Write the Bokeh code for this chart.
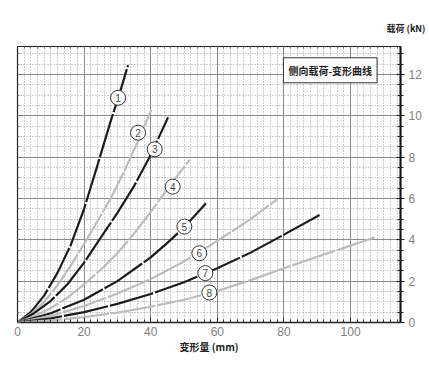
from bokeh.plotting import figure
from bokeh.models import LinearAxis, Range1d, SingleIntervalTicker, Label, CustomLabelingPolicy
from bokeh.core.properties import value
from bokeh.embed import file_html
from bokeh.resources import INLINE

# ---- data ----
curve_ids = ["1", "2", "3", "4", "5", "6", "7", "8"]

c1_x = [0, 4, 8, 12, 16, 20, 24, 28, 30.5, 33.2]
c1_y = [0, 0.5, 1.3, 2.4, 3.75, 5.5, 7.6, 9.75, 11.0, 12.45]

c2_x = [0, 4, 8, 12, 16, 20, 24, 28, 32, 36, 40.2]
c2_y = [0, 0.4, 1.0, 1.8, 2.75, 3.8, 4.9, 6.0, 7.3, 8.7, 10.3]

c3_x = [0, 5, 10, 15, 20, 25, 30, 35, 40, 45.2]
c3_y = [0, 0.45, 1.05, 1.85, 2.9, 4.1, 5.3, 6.6, 8.1, 9.92]

c4_x = [0, 5, 10, 15, 20, 25, 30, 35, 40, 45, 51.6]
c4_y = [0, 0.3, 0.7, 1.2, 1.85, 2.55, 3.35, 4.3, 5.35, 6.45, 7.86]

c5_x = [0, 10, 20, 30, 40, 45, 50, 56.6]
c5_y = [0, 0.45, 1.1, 2.0, 3.15, 3.85, 4.6, 5.77]

c6_x = [0, 10, 20, 30, 40, 50, 60, 70, 78]
c6_y = [0, 0.32, 0.8, 1.4, 2.1, 2.95, 3.95, 5.0, 5.96]

c7_x = [0, 10, 20, 30, 40, 50, 60, 70, 80, 90.7]
c7_y = [0, 0.2, 0.5, 0.9, 1.38, 1.95, 2.62, 3.38, 4.25, 5.2]

c8_x = [0, 10, 20, 30, 40, 50, 60, 70, 80, 90, 100, 107.3]
c8_y = [0, 0.1, 0.26, 0.48, 0.76, 1.1, 1.52, 2.05, 2.62, 3.18, 3.72, 4.12]

label_x = [30.2, 36.2, 41.2, 46.6, 50.1, 54.6, 56.4, 57.6]
label_y = [10.87, 9.18, 8.38, 6.57, 4.64, 3.35, 2.39, 1.45]

x_title = "变形量 (mm)"
y_title = "载荷 (kN)"
chart_title = "侧向载荷-变形曲线"

# ---- figure ----
CJK = "Noto Sans CJK SC"
p = figure(width=429, height=375, output_backend="svg", toolbar_location=None,
           x_range=Range1d(0, 115), y_range=Range1d(0, 13.35),
           y_axis_location="right",
           min_border_left=17, min_border_right=29, min_border_top=46, min_border_bottom=53)
p.background_fill_color = "white"
p.border_fill_color = "white"
p.outline_line_color = "#222222"
p.outline_line_width = 1.2

xt = SingleIntervalTicker(interval=20, num_minor_ticks=10)
yt = SingleIntervalTicker(interval=2, num_minor_ticks=4)

xa = p.xaxis[0]
xa.ticker = xt
xa.axis_label = x_title
xa.axis_label_text_font = CJK
xa.axis_label_text_font_style = "bold"
xa.axis_label_text_font_size = "10px"
xa.axis_label_text_color = "#222222"
xa.axis_label_standoff = 0
xa.major_label_text_font = "Liberation Sans"
xa.major_label_text_font_size = "12px"
xa.major_label_text_color = "#808080"
xa.major_label_standoff = 4
xa.axis_line_color = "#222222"
xa.axis_line_width = 1.5
xa.major_tick_in = 5
xa.major_tick_out = 0
xa.minor_tick_in = 3
xa.minor_tick_out = 0
xa.major_tick_line_color = "#333333"
xa.minor_tick_line_color = "#333333"

ya = p.yaxis[0]
ya.ticker = yt
ya.major_label_text_font = "Liberation Sans"
ya.major_label_text_font_size = "12px"
ya.major_label_text_color = "#808080"
ya.major_label_standoff = 4
ya.axis_line_color = "#111111"
ya.axis_line_width = 2
ya.major_tick_in = 4
ya.major_tick_out = 4
ya.minor_tick_in = 3
ya.minor_tick_out = 3
ya.major_tick_line_color = "#222222"
ya.minor_tick_line_color = "#222222"

no_labels = CustomLabelingPolicy(code="for (const i of Array.from(indices)) { indices.unset(i) }; return indices")
for loc, tk in (("left", yt), ("above", xt)):
    ax = LinearAxis(ticker=tk, major_label_policy=no_labels, major_label_standoff=0,
                    major_tick_in=3, major_tick_out=0, minor_tick_in=2, minor_tick_out=0,
                    axis_line_color="#222222", major_tick_line_color="#555555",
                    minor_tick_line_color="#777777")
    p.add_layout(ax, loc)

for g in (p.xgrid[0], p.ygrid[0]):
    g.grid_line_color = "#8a8a8a"
    g.grid_line_width = 1
    g.minor_grid_line_color = "#a0a0a0"
    g.minor_grid_line_dash = "1 2"
    g.minor_grid_line_width = 1

p.title.text = y_title
p.title.align = "right"
p.title.text_font = CJK
p.title.text_font_size = "9px"
p.title.text_font_style = "bold"
p.title.text_color = "#222222"
p.title.offset = -25
p.title.standoff = 1

black = "#1c1c1c"
gray = "#bcbcbc"
curves = [(c1_x, c1_y, black), (c2_x, c2_y, gray), (c3_x, c3_y, black), (c4_x, c4_y, gray),
          (c5_x, c5_y, black), (c6_x, c6_y, gray), (c7_x, c7_y, black), (c8_x, c8_y, gray)]
for xs, ys, col in curves:
    p.line(xs, ys, line_color=col, line_width=2.2, line_dash="45 2", line_join="round")

p.scatter(label_x, label_y, size=15, fill_color="white", line_color="#333333", line_width=1)
p.text(label_x, label_y, text=curve_ids, text_align="center", text_baseline="middle",
       text_font=value("Liberation Sans"), text_font_size="10px", text_color="#444444")

box = Label(x=93.9, y=12.2, text=chart_title, text_align="center", text_baseline="middle",
            text_font=CJK, text_font_size="10px", text_font_style="bold", text_color="#222222",
            background_fill_color="white", border_line_color="#333333", border_line_width=1,
            padding=5)
p.add_layout(box)

open("out.html", "w").write(file_html(p, INLINE))
